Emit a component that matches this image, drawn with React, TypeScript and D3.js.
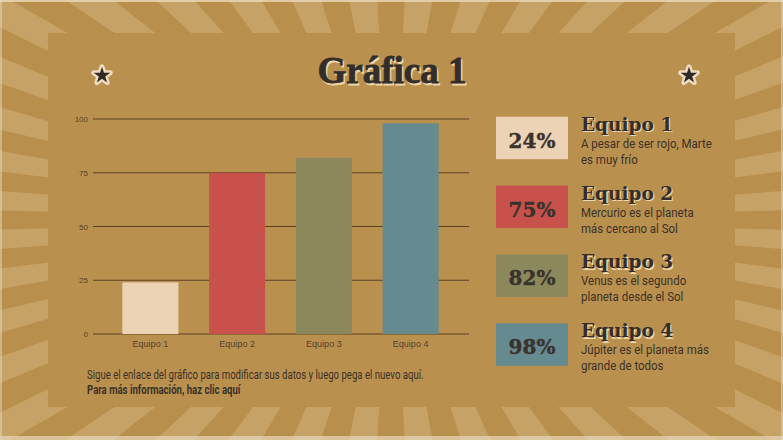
import React, { useEffect, useRef } from 'react';
import * as d3 from 'd3';

const teams = ['Equipo 1', 'Equipo 2', 'Equipo 3', 'Equipo 4'];
const values = [24, 75, 82, 98];
const colors = ['#ecd3b6', '#c9514b', '#8b895c', '#658a90'];
const yTicks = [0, 25, 50, 75, 100];
const descriptions = [
  ['A pesar de ser rojo, Marte', 'es muy frío'],
  ['Mercurio es el planeta', 'más cercano al Sol'],
  ['Venus es el segundo', 'planeta desde el Sol'],
  ['Júpiter es el planeta más', 'grande de todos'],
];

const App = () => {
  const ref = useRef<SVGSVGElement | null>(null);

  useEffect(() => {
    const W = 783;
    const H = 440;
    const svg = d3.select(ref.current);
    svg.selectAll('*').remove();

    // background sunburst
    svg.append('rect').attr('width', W).attr('height', H).attr('fill', '#b98f4e');
    const rays = svg.append('g').attr('transform', 'translate(391,220) scale(1.6,1)');
    const nRays = 40;
    const step = (Math.PI * 2) / nRays;
    const arc = d3.arc<number>()
      .innerRadius(0)
      .outerRadius(700)
      .startAngle(i => i * step + step * 0.25)
      .endAngle(i => i * step + step * 0.75);
    rays.selectAll('path')
      .data(d3.range(nRays))
      .enter()
      .append('path')
      .attr('d', d => arc(d) as string)
      .attr('fill', '#c6a267');

    // worn edges
    svg.append('rect').attr('x', 0).attr('y', 0).attr('width', W).attr('height', 2).attr('fill', '#e8d9bb').attr('opacity', 0.8);
    svg.append('rect').attr('x', 0).attr('y', 436).attr('width', W).attr('height', 4).attr('fill', '#e8d9bb').attr('opacity', 0.7);
    svg.append('rect').attr('x', 0).attr('y', 0).attr('width', 2).attr('height', H).attr('fill', '#e8d9bb').attr('opacity', 0.5);
    svg.append('rect').attr('x', 781).attr('y', 0).attr('width', 2).attr('height', H).attr('fill', '#e8d9bb').attr('opacity', 0.5);

    // panel
    svg.append('rect').attr('x', 48).attr('y', 33).attr('width', 687).attr('height', 374).attr('fill', '#ba904f');

    // title
    const title = svg.append('g').attr('font-family', '"Liberation Serif", serif').attr('font-weight', 'bold')
      .attr('font-size', 37).attr('text-anchor', 'middle');
    title.append('text').attr('x', 393.5).attr('y', 84.5).attr('fill', '#ecd6ad')
      .attr('stroke', '#ecd6ad').attr('stroke-width', 0.8).text('Gráfica 1');
    title.append('text').attr('x', 392).attr('y', 83).attr('fill', '#332e2a')
      .attr('stroke', '#332e2a').attr('stroke-width', 0.8).text('Gráfica 1');

    // stars
    const star = d3.symbol().type(d3.symbolStar).size(85)();
    [102, 689].forEach(cx => {
      svg.append('path')
        .attr('d', star as string)
        .attr('transform', `translate(${cx},75.5)`)
        .attr('fill', '#2e2925')
        .attr('stroke', '#efdcc0')
        .attr('stroke-width', 5)
        .attr('stroke-linejoin', 'round')
        .attr('paint-order', 'stroke');
    });

    // chart
    const x = d3.scaleBand<string>().domain(teams).range([107, 454]).paddingInner(0.354).paddingOuter(0.177);
    const y = d3.scaleLinear().domain([0, 100]).range([334, 119]);

    const grid = svg.append('g');
    grid.selectAll('line')
      .data(yTicks)
      .enter()
      .append('line')
      .attr('x1', 93)
      .attr('x2', 469)
      .attr('y1', d => y(d))
      .attr('y2', d => y(d))
      .attr('stroke', '#5a4221')
      .attr('stroke-width', 1.2);
    grid.selectAll('text')
      .data(yTicks)
      .enter()
      .append('text')
      .attr('x', 88)
      .attr('y', d => y(d) + 3)
      .attr('text-anchor', 'end')
      .attr('font-family', '"Liberation Sans", Arial, sans-serif')
      .attr('font-size', 8)
      .attr('fill', '#54422b')
      .text(d => d);

    svg.append('g').selectAll('rect')
      .data(values)
      .enter()
      .append('rect')
      .attr('x', (d, i) => x(teams[i]) as number)
      .attr('y', d => y(d))
      .attr('width', x.bandwidth())
      .attr('height', d => y(0) - y(d))
      .attr('fill', (d, i) => colors[i]);

    svg.append('g').selectAll('text')
      .data(teams)
      .enter()
      .append('text')
      .attr('x', d => (x(d) as number) + x.bandwidth() / 2)
      .attr('y', 346.5)
      .attr('text-anchor', 'middle')
      .attr('font-family', '"Liberation Sans", Arial, sans-serif')
      .attr('font-size', 9)
      .attr('fill', '#54422b')
      .text(d => d);

    // footer
    const foot = svg.append('g').attr('transform', 'translate(87,0) scale(0.8,1)')
      .attr('font-family', 'Roboto, sans-serif').attr('font-size', 12).attr('fill', '#3a3128');
    foot.append('text').attr('x', 0).attr('y', 379)
      .text('Sigue el enlace del gráfico para modificar sus datos y luego pega el nuevo aquí.');
    foot.append('text').attr('x', 0).attr('y', 394).attr('font-weight', 'bold')
      .text('Para más información, haz clic aquí');

    // legend
    const ly = d3.scalePoint<string>().domain(teams).range([116.7, 323.3]);
    teams.forEach((t, i) => {
      const top = ly(t) as number;
      const g = svg.append('g');
      g.append('rect').attr('x', 496).attr('y', top).attr('width', 72).attr('height', 42.5).attr('fill', colors[i]);
      g.append('text')
        .attr('x', 532).attr('y', top + 31)
        .attr('text-anchor', 'middle')
        .attr('font-family', '"DejaVu Serif", serif').attr('font-weight', 'bold')
        .attr('font-size', 20).attr('fill', '#3a322c')
        .attr('stroke', '#3a322c').attr('stroke-width', 0.4)
        .text(values[i] + '%');
      g.append('text')
        .attr('x', 582.3).attr('y', top + 15.3)
        .attr('font-family', '"DejaVu Serif", serif').attr('font-weight', 'bold')
        .attr('font-size', 18.5).attr('fill', '#ecd6ad')
        .text(t);
      g.append('text')
        .attr('x', 581).attr('y', top + 14)
        .attr('font-family', '"DejaVu Serif", serif').attr('font-weight', 'bold')
        .attr('font-size', 18.5).attr('fill', '#332e2a')
        .text(t);
      const desc = g.append('g').attr('transform', `translate(581,0) scale(0.85,1)`)
        .attr('font-family', 'Roboto, sans-serif').attr('font-size', 13.5).attr('fill', '#3a3128');
      descriptions[i].forEach((line, j) => {
        desc.append('text').attr('x', 0).attr('y', top + 31 + j * 16).text(line);
      });
    });

    return () => {
      svg.selectAll('*').remove();
    };
  }, []);

  return (
    <svg ref={ref} width={783} height={440} style={{ position: 'absolute', left: 0, top: 0 }} />
  );
};

export default App;
